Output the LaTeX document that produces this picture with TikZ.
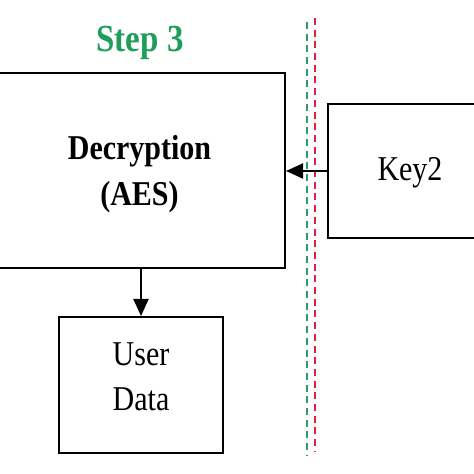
\documentclass[tikz,border=0pt]{standalone}
\usepackage{graphicx}
\usepackage{fontspec}
\setmainfont{Liberation Serif}
\usetikzlibrary{arrows.meta}
\definecolor{stepgreen}{HTML}{1E9E5A}
\definecolor{dashgreen}{HTML}{2A9D6A}
\definecolor{dashred}{HTML}{DC2038}
\newcommand{\tallt}[1]{\scalebox{1}[1.16]{#1}}
\tikzset{
  box/.style={draw=black, line width=2pt, inner sep=0pt},
  lbl/.style={anchor=base, inner sep=0pt, font=\fontsize{30}{36}\selectfont},
  conn/.style={line width=2pt, -{Triangle[length=17pt,width=15pt]}},
  sep/.style={line width=1.8pt, dash pattern=on 7pt off 4.7pt}
}
\begin{document}
\begin{tikzpicture}[x=1pt,y=1pt]
\useasboundingbox (0,0) rectangle (474,474);
\clip (0,0) rectangle (474,474);
\fill[white] (0,0) rectangle (474,474);
% boxes
\node[box, minimum width=295pt, minimum height=195pt] (dec) at (137.5,303.5) {};
\node[box, minimum width=164pt, minimum height=136pt] (user) at (141,89) {};
\node[box, minimum width=170pt, minimum height=134pt] (key) at (413,303) {};
% texts
\node[lbl, font=\bfseries\fontsize{33}{36}\selectfont, text=stepgreen] (step) at (140,422) {\tallt{Step 3}};
\node[lbl, font=\bfseries\fontsize{30}{36}\selectfont] (dect1) at (139.5,314) {\tallt{Decryption}};
\node[lbl, font=\bfseries\fontsize{30}{36}\selectfont] (dect2) at (139.5,268) {\tallt{(AES)}};
\node[lbl] (keyt) at (410,293) {\tallt{Key2}};
\node[lbl] (usert1) at (141,108) {\tallt{User}};
\node[lbl] (usert2) at (141,63) {\tallt{Data}};
% separators
\coordinate (gtop) at (307,452);
\coordinate (gbot) at (307,19);
\coordinate (rtop) at (315,456);
\coordinate (rbot) at (315,22);
\draw[sep, dashgreen] (gtop) -- (gbot);
\draw[sep, dashred] (rtop) -- (rbot);
% connectors
\draw[conn] (key.west) -- (key.west -| dec.east);
\draw[conn] (user.north |- dec.south) -- (user.north);
\end{tikzpicture}
\end{document}
